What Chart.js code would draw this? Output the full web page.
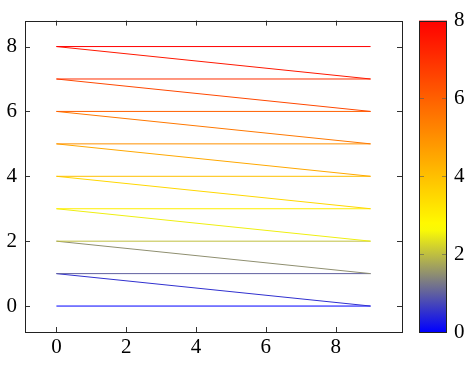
<!DOCTYPE html>
<html>
<head>
<meta charset="utf-8">
<script src="https://cdn.jsdelivr.net/npm/chart.js@4/dist/chart.umd.min.js"></script>
<style>
  html, body { margin: 0; padding: 0; background: #fff; }
  #wrap { width: 474px; height: 367px; }
</style>
</head>
<body>
<div id="wrap"><canvas id="chart"></canvas></div>
<script>
// data
var levels = [0, 1, 2, 3, 4, 5, 6, 7, 8];
var xEnds = [0, 9];
var xTicks = [0, 2, 4, 6, 8];
var yTicks = [0, 2, 4, 6, 8];
var cbTicks = [0, 2, 4, 6, 8];

// pgfplots "hot" colormap: blue, yellow, orange, red
var cmap = [[0, 0, 255], [255, 255, 0], [255, 128, 0], [255, 0, 0]];
var cmin = 0, cmax = 8;

function colorAt(v) {
    var t = (v - cmin) / (cmax - cmin);
    t = Math.max(0, Math.min(1, t)) * (cmap.length - 1);
    var i = Math.min(Math.floor(t), cmap.length - 2);
    var f = t - i;
    var a = cmap[i], b = cmap[i + 1];
    var c = [0, 1, 2].map(function(k) { return Math.round(a[k] + (b[k] - a[k]) * f); });
    return 'rgb(' + c.join(',') + ')';
}

// zigzag: (0,y) -> (9,y) -> (0,y+1) ...
var points = [];
levels.forEach(function(y) {
    xEnds.forEach(function(x) { points.push({x: x, y: y}); });
});

Chart.defaults.font.family = "'Liberation Serif', 'DejaVu Serif', serif";
Chart.defaults.font.size = 21;
Chart.defaults.color = '#000';

var noGrid = {display: false, drawTicks: false, tickLength: 0};

var frame = {
    id: 'frame',
    afterDraw: function(chart) {
        var ctx = chart.ctx, a = chart.chartArea;
        var sx = chart.scales.x, sy = chart.scales.y, cb = chart.scales.cb;
        var tl = 5;
        ctx.save();
        ctx.strokeStyle = '#333';
        ctx.lineWidth = 1;
        ctx.beginPath();
        xTicks.forEach(function(v) {
            var p = Math.round(sx.getPixelForValue(v)) + 0.5;
            ctx.moveTo(p, a.bottom); ctx.lineTo(p, a.bottom - tl);
            ctx.moveTo(p, a.top); ctx.lineTo(p, a.top + tl);
        });
        yTicks.forEach(function(v) {
            var p = Math.round(sy.getPixelForValue(v)) + 0.5;
            ctx.moveTo(a.left, p); ctx.lineTo(a.left + tl, p);
            ctx.moveTo(a.right, p); ctx.lineTo(a.right - tl, p);
        });
        ctx.stroke();
        ctx.strokeStyle = '#222';
        ctx.strokeRect(Math.round(a.left) + 0.5, Math.round(a.top) + 0.5,
            Math.round(a.right - a.left), Math.round(a.bottom - a.top));

        // colorbar
        var bx = 419, bw = 28;
        var top = cb.getPixelForValue(cmax), bot = cb.getPixelForValue(cmin);
        var g = ctx.createLinearGradient(0, bot, 0, top);
        for (var i = 0; i <= 40; i++) {
            g.addColorStop(i / 40, colorAt(cmin + (cmax - cmin) * i / 40));
        }
        ctx.fillStyle = g;
        ctx.fillRect(bx, top, bw, bot - top);
        ctx.strokeStyle = 'rgba(90,90,90,0.6)';
        ctx.beginPath();
        cbTicks.forEach(function(v) {
            var p = Math.round(cb.getPixelForValue(v)) + 0.5;
            ctx.moveTo(bx, p); ctx.lineTo(bx + tl, p);
            ctx.moveTo(bx + bw, p); ctx.lineTo(bx + bw - tl, p);
        });
        ctx.stroke();
        ctx.strokeStyle = '#222';
        ctx.strokeRect(bx + 0.5, Math.round(top) + 0.5, bw - 1, Math.round(bot - top));
        ctx.restore();
    }
};

new Chart(document.getElementById('chart'), {
    type: 'line',
    data: {
        datasets: [{
            data: points,
            borderWidth: 1,
            pointRadius: 0,
            fill: false,
            tension: 0,
            segment: {
                borderColor: function(c) { return colorAt((c.p0.parsed.y + c.p1.parsed.y) / 2); }
            }
        }]
    },
    options: {
        responsive: true,
        maintainAspectRatio: false,
        animation: false,
        layout: {padding: {top: 20, left: 0, right: 0, bottom: 0}},
        plugins: {legend: {display: false}, tooltip: {enabled: false}},
        scales: {
            x: {
                type: 'linear', min: -0.9, max: 9.9,
                afterBuildTicks: function(s) { s.ticks = xTicks.map(function(v) { return {value: v}; }); },
                afterFit: function(s) { s.height = 35; },
                grid: noGrid,
                border: {display: false},
                ticks: {padding: 3, maxRotation: 0}
            },
            y: {
                type: 'linear', min: -0.8, max: 8.8,
                afterBuildTicks: function(s) { s.ticks = yTicks.map(function(v) { return {value: v}; }); },
                afterFit: function(s) { s.width = 25; },
                grid: noGrid,
                border: {display: false},
                ticks: {padding: 8}
            },
            gap: {
                type: 'linear', position: 'right', weight: 1,
                afterFit: function(s) { s.width = 45; },
                grid: noGrid,
                border: {display: false},
                ticks: {display: false}
            },
            cb: {
                type: 'linear', position: 'right', weight: 2, min: cmin, max: cmax,
                afterBuildTicks: function(s) { s.ticks = cbTicks.map(function(v) { return {value: v}; }); },
                afterFit: function(s) { s.width = 27; },
                grid: noGrid,
                border: {display: false},
                ticks: {padding: 7}
            }
        }
    },
    plugins: [frame]
});
</script>
</body>
</html>
